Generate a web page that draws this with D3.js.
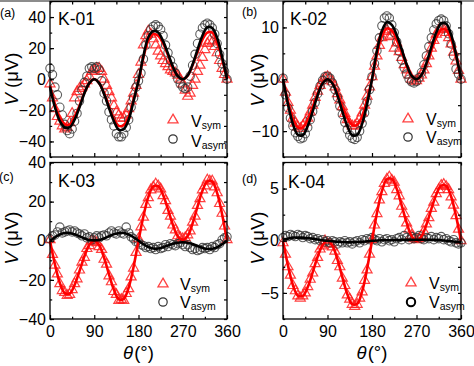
<!DOCTYPE html>
<html>
<head>
<meta charset="utf-8">
<script src="https://cdn.jsdelivr.net/npm/d3@7"></script>
<style>
body{margin:0;background:#fff;}
svg{display:block;font-family:"Liberation Sans",Arial,sans-serif;}
</style>
</head>
<body>
<svg id="fig" width="474" height="366"></svg>
<script>
// measured angles (deg) and fit sampling
var thetaData = [0,5,10,15,20,25,30,35,40,45,50,55,60,65,70,75,80,85,90,95,100,105,110,115,120,125,130,135,140,145,
	150,155,160,165,170,175,180,185,190,195,200,205,210,215,220,225,230,235,240,245,250,255,260,265,270,275,280,285,290,295,
	300,305,310,315,320,325,330,335,340,345,350,355,360];
var thetaFit = [0,10,20,30,40,50,60,70,80,90,100,110,120,130,140,150,160,170,180,190,200,210,220,230,240,250,260,270,
	280,290,300,310,320,330,340,350,360];
var xTicks = [0,90,180,270,360];

// K-01
var k01Sym = [-3,-12,-19,-24,-27,-30,-32,-31,-28,-22,
	-12,-8,-6,-5,-3,-1,2,5,6,7,
	7,5,0,-4,-8,-12,-17,-21,-23,-25,
	-25,-23,-19,-14,-9,-4,3,11,22,28,
	31,29,26,22,18,15,12,10,8,6,
	5,4,2.5,0,-3,-7,-11,-9,-4,0,
	5,9,14,19,23,25,24,21,17,12,
	7,3,0];
var k01Asym = [7,3,-5,-10,-18,-23,-29,-33,-35,-32,
	-27,-22,-14,-7,-2,2,7,8,7,8,
	6,-1,-9,-14,-21,-26,-30,-35,-37,-37,
	-35,-31,-26,-18,-12,-5,-1,4,13,22,
	28,32,34,35,34,32,28,22,17,12,
	8,4,0,-3,-5,-6,-5,2,9,16,
	23,29,33,35,36,35,33,29,23,16,
	10,5,0];
var k01SymFit = [-4,-16,-25,-29,-29,-24,-17,-8.5,-2.5,0,
	-2.5,-9,-17.5,-25.5,-30,-29.5,-24,-13,-1,
	14,25,29,28,23,15.5,7.5,2,0,
	2.3,9,17.5,25.5,30,30,24,13,0];
var k01AsymFit = [-5,-18,-27,-31,-31,-26,-18,-9,-2.5,0,
	-2.5,-9.5,-18.5,-27,-32.5,-32,-26,-14,-1,
	15,27,31,30,24.5,16.5,8,2,0,
	2.5,9.5,19,28,33.5,33,26.5,14.5,0];

// K-02
var k02Sym = [0,-2.5,-4.5,-6,-7.5,-8.5,-9.2,-9.5,-9,-8.3,
	-7.5,-6.3,-5,-3.5,-2.3,-1.2,-0.3,0.3,0.5,0.2,
	-0.5,-1.5,-2.8,-4,-5.3,-6.6,-7.8,-8.6,-9,-9,
	-8.6,-7.6,-6.5,-5,-3.3,-1.5,0.5,2.5,4.5,6.5,
	8,9.2,9.5,8.2,8.5,6,7,5.3,4.2,2.8,
	1.8,0.8,0,-0.4,-0.3,0.2,0.8,1.8,3,4.5,
	6,7.5,8.7,9.5,9.8,9.6,9,8,6.8,5.2,
	3.5,1.7,0];
var k02Asym = [0.2,-3,-5.5,-7.5,-9,-10.3,-11,-11.5,-11.3,-10.5,
	-9.3,-7.8,-6.2,-4.5,-2.8,-1.3,-0.2,0.5,0.6,0.2,
	-0.7,-2,-3.5,-5.2,-6.8,-8.3,-9.7,-10.8,-11.4,-11.6,
	-11.2,-10,-8.5,-6.5,-4.3,-2,0.5,3,5.5,8,
	10.3,11.8,12.2,11.8,10.5,9,7.2,5.4,3.7,2.2,
	1,0,-0.5,-0.7,-0.4,0.3,1.3,2.8,4.5,6.3,
	8,9.5,10.7,11.3,11.6,11.3,10.3,8.8,6.8,4.5,
	2,1,0];
var k02SymFit = [0,-4.2,-7.5,-9.3,-9.3,-7.8,-5.3,-2.7,-0.7,0,
	-0.7,-2.6,-5.1,-7.4,-8.8,-8.8,-7.1,-3.9,0,
	4.8,8.3,9.8,9.4,7.6,5.2,2.6,0.6,0,
	0.8,2.8,5.5,8,9.6,9.5,7.7,4.3,0];
var k02AsymFit = [0,-4.8,-8.6,-10.7,-10.8,-9,-6.2,-3.1,-0.8,0,
	-0.8,-3.1,-6.2,-9,-10.8,-10.7,-8.6,-4.8,0,
	5.5,9.3,11,10.5,8.5,5.8,2.9,0.7,0,
	0.8,3.1,6.2,9,10.8,10.7,8.6,4.8,0];

// K-03
var k03Sym = [0.5,-7,-12.5,-17,-22,-25.5,-26.5,-28,-27.5,-25,
	-22,-19.5,-15,-11,-8.5,-4,-2.5,0,-0.5,-1,
	-3,-4.5,-9.5,-12,-18,-21,-26,-27.5,-30.5,-30,
	-30.5,-27,-24.5,-18.5,-14,-6,1,7,12,18.5,
	22,26,27.5,29,28,26.5,23,20.5,15.5,12.5,
	8,5.5,2.5,1.5,1,1.5,3,5,9.5,12.5,
	18,21.5,26,28,31,30.5,30.5,27.5,24.5,19,
	14,7.5,0.5];
var k03Asym = [1,2.5,3,4.5,7,4,4.5,5,5.5,4.5,
	5,4,3.5,2.5,3.5,1.5,2,0.5,1.5,2.5,
	1.5,2.5,3,2.5,4,5,4,3.5,5,4,
	3.5,7,4,2,1,-0.5,-1,-2,-2.5,-3.5,
	-3,-4,-3.5,-4.5,-3,-4,-3.5,-2,-3,-1.5,
	-2,-2.5,-1.5,-1,-2,-3,-2,-3.5,-4.5,-4,
	-5,-4.5,-3.5,-4,-3.5,-4.5,-3,-3.5,-2,-1.5,
	0.5,1.5,2];
var k03SymFit = [0,-12,-21.6,-26.8,-27,-22.6,-15.5,-7.9,-2.1,0,
	-2.3,-8.7,-17.2,-25.1,-29.9,-29.7,-23.9,-13.3,0,
	12.5,22.4,27.8,27.9,23.4,16,8.1,2.2,0.5,
	2.4,8.9,17.4,25.5,30.4,30.2,24.3,13.6,0];
var k03AsymFit = [0,1.8,3.2,4,4,3.3,2.3,1.2,0.4,0.2,
	0.4,1.2,2.3,3.3,4,4,3.2,1.8,0,
	-1.8,-3.2,-4,-4,-3.3,-2.4,-1.5,-1,-0.8,
	-1,-1.7,-2.7,-3.6,-4.2,-4.1,-3.3,-1.8,0];

// K-04
var k04Sym = [-0.2,-1.3,-2.5,-3.3,-4.3,-4.8,-5.3,-5.5,-5.3,-5,
	-4.4,-3.7,-3.1,-2.2,-1.6,-0.8,-0.5,0,-0.3,-0.3,
	-0.6,-1,-1.9,-2.5,-3.6,-4.3,-5.2,-5.6,-6.1,-6.3,
	-6.1,-5.5,-4.9,-3.8,-2.8,-1.3,0.1,1.5,2.6,3.9,
	4.7,5.5,5.9,6.1,5.8,5.6,4.9,4.3,3.3,2.6,
	1.7,1.1,0.5,0.2,0.1,0.2,0.5,0.9,1.6,2.2,
	3.1,3.7,4.5,4.9,5.3,5.4,5.2,4.9,4.2,3.4,
	2.4,1.1,0];
var k04Asym = [0.3,0.5,0.4,0.6,0.5,0.4,0.6,0.5,0.3,0.5,
	0.4,0.2,0.3,0.1,0.2,0,0.1,-0.1,0,-0.2,
	0,-0.1,-0.3,-0.1,-0.2,0,-0.2,-0.1,-0.3,-0.1,
	0,-0.2,0.1,0,0.2,0.1,0.3,0.1,0,0.2,
	-0.1,0.1,0.2,0,0.1,-0.1,0.2,0.3,0.1,0.5,
	0.3,0.1,0.4,0.2,0.3,0.5,0.2,0.1,0.3,0.2,
	0.4,0.1,0.3,0.2,0.4,0.1,0.2,0,-0.1,0.1,
	-0.2,-0.3,-0.2];
var k04SymFit = [0,-2.36,-4.24,-5.26,-5.29,-4.44,-3.04,-1.54,-0.42,0,
	-0.48,-1.77,-3.49,-5.1,-6.08,-6.04,-4.86,-2.71,0,
	2.65,4.75,5.89,5.93,4.97,3.4,1.73,0.47,0,
	0.42,1.54,3.04,4.44,5.29,5.26,4.24,2.36,0];
var k04AsymFit = [0.1,0.2,0.3,0.3,0.3,0.25,0.2,0.12,0.05,0,
	-0.05,-0.1,-0.12,-0.15,-0.15,-0.12,-0.1,-0.05,0,
	0.03,0.05,0.05,0.05,0.07,0.08,0.1,0.1,0.1,
	0.1,0.1,0.1,0.08,0.05,0,-0.05,-0.12,-0.2];

var RED = "#ff2020", GREY = "#333";

var panels = [
	{tag:"(a)", name:"K-01", left:50, top:1.5, w:177, h:155.5, sym:k01Sym, asym:k01Asym, symFit:k01SymFit, asymFit:k01AsymFit,
	 yDomain:[-50,50], yMajor:[-40,-20,0,20,40], yStep:10, xLabels:false,
	 tagPos:[0,17], namePos:[58,25], yTitle:[18,79], leg:{x:173,y1:120,y2:139,tx:191,b1:126.5,b2:146.5}, darkLeg:false},
	{tag:"(b)", name:"K-02", left:283, top:1.5, w:178, h:155.5, sym:k02Sym, asym:k02Asym, symFit:k02SymFit, asymFit:k02AsymFit,
	 yDomain:[-15,15], yMajor:[-10,0,10], yStep:5, xLabels:false,
	 tagPos:[242,16], namePos:[290,25], yTitle:[264,80], leg:{x:408,y1:119,y2:137,tx:426,b1:125,b2:143}, darkLeg:false},
	{tag:"(c)", name:"K-03", left:50, top:162.5, w:177, h:156.5, sym:k03Sym, asym:k03Asym, symFit:k03SymFit, asymFit:k03AsymFit,
	 yDomain:[-40,40], yMajor:[-40,-20,0,20,40], yStep:10, xLabels:true,
	 tagPos:[-1,181], namePos:[58,187], yTitle:[18,238], leg:{x:163,y1:284,y2:302,tx:180,b1:290,b2:308}, darkLeg:false},
	{tag:"(d)", name:"K-04", left:283, top:162.5, w:178, h:156.5, sym:k04Sym, asym:k04Asym, symFit:k04SymFit, asymFit:k04AsymFit,
	 yDomain:[-7.5,7.5], yMajor:[-5,0,5], yStep:2.5, xLabels:true,
	 tagPos:[242,183], namePos:[288,188], yTitle:[264,238], leg:{x:411,y1:283,y2:302,tx:429,b1:289,b2:308}, darkLeg:true}
];

var svg = d3.select("#fig");
// grey strip along the top edge of the figure
svg.append("rect").attr("x",0).attr("y",0).attr("width",474).attr("height",2).attr("fill","#8c8c8c");

var tri = d3.symbol(d3.symbolTriangle, 44);

function tidy(sel){
	sel.select(".domain").remove();
	sel.attr("font-family",null).attr("font-size",null);
	sel.selectAll("line").attr("stroke","#000").attr("stroke-width",1.2);
	sel.selectAll("text").attr("fill","#000").style("font-size","16px");
}

panels.forEach(function(p){
	var x = d3.scaleLinear().domain([0,360]).range([p.left, p.left+p.w]);
	var y = d3.scaleLinear().domain(p.yDomain).range([p.top+p.h, p.top]);
	var g = svg.append("g");
	var minorY = d3.range(p.yDomain[0], p.yDomain[1]+1e-9, p.yStep);
	var minorX = [45,135,225,315];

	// data points
	var symPts = thetaData.map(function(t,i){return [t,p.sym[i]];});
	var asymPts = thetaData.map(function(t,i){return [t,p.asym[i]];});
	g.append("g").selectAll("path").data(symPts).enter().append("path")
		.attr("d",tri).attr("transform",function(d){return "translate("+x(d[0])+","+y(d[1])+")";})
		.attr("fill","none").attr("stroke",RED).attr("stroke-opacity",0.85).attr("stroke-width",1.2);
	g.append("g").selectAll("circle").data(asymPts).enter().append("circle")
		.attr("cx",function(d){return x(d[0]);}).attr("cy",function(d){return y(d[1]);}).attr("r",4.2)
		.attr("fill","none").attr("stroke",GREY).attr("stroke-opacity",0.8).attr("stroke-width",1.1);

	// fit curves
	var line = d3.line().x(function(d){return x(d[0]);}).y(function(d){return y(d[1]);}).curve(d3.curveCatmullRom);
	g.append("path").datum(thetaFit.map(function(t,i){return [t,p.symFit[i]];}))
		.attr("d",line).attr("fill","none").attr("stroke","#ff0000").attr("stroke-width",2.6);
	g.append("path").datum(thetaFit.map(function(t,i){return [t,p.asymFit[i]];}))
		.attr("d",line).attr("fill","none").attr("stroke","#000").attr("stroke-width",2.6);

	// axes, ticks pointing inward
	g.append("g").attr("transform","translate("+p.left+",0)")
		.call(d3.axisLeft(y).tickValues(p.yMajor).tickSize(-4).tickPadding(4).tickSizeOuter(0)).call(tidy);
	g.append("g").attr("transform","translate("+p.left+",0)")
		.call(d3.axisLeft(y).tickValues(minorY).tickSize(-2.2).tickFormat("").tickSizeOuter(0)).call(tidy);
	g.append("g").attr("transform","translate("+(p.left+p.w)+",0)")
		.call(d3.axisRight(y).tickValues(minorY).tickSize(-3).tickFormat("").tickSizeOuter(0)).call(tidy);
	var bottom = d3.axisBottom(x).tickValues(xTicks).tickSize(-4).tickPadding(7).tickSizeOuter(0);
	if(!p.xLabels) bottom.tickFormat("");
	g.append("g").attr("transform","translate(0,"+(p.top+p.h)+")").call(bottom).call(tidy);
	g.append("g").attr("transform","translate(0,"+(p.top+p.h)+")")
		.call(d3.axisBottom(x).tickValues(minorX).tickSize(-2.2).tickFormat("").tickSizeOuter(0)).call(tidy);
	g.append("g").attr("transform","translate(0,"+p.top+")")
		.call(d3.axisTop(x).tickValues(xTicks.concat(minorX)).tickSize(-3).tickFormat("").tickSizeOuter(0)).call(tidy);

	g.append("rect").attr("x",p.left).attr("y",p.top).attr("width",p.w).attr("height",p.h)
		.attr("fill","none").attr("stroke","#000").attr("stroke-width",1.3);

	// labels
	g.append("text").attr("x",p.tagPos[0]).attr("y",p.tagPos[1]).style("font-size","12.5px").text(p.tag);
	g.append("text").attr("x",p.namePos[0]).attr("y",p.namePos[1]).style("font-size","17.5px").text(p.name);

	var yt = g.append("text").attr("transform","translate("+p.yTitle[0]+","+p.yTitle[1]+") rotate(-90)")
		.attr("text-anchor","middle").style("font-size","18.5px");
	yt.append("tspan").style("font-style","italic").text("V");
	yt.append("tspan").text(" (\u03bcV)");

	if(p.xLabels){
		var xt = g.append("text").attr("x",x(180)).attr("y",359).attr("text-anchor","middle").style("font-size","18.5px");
		xt.append("tspan").style("font-style","italic").text("\u03b8");
		xt.append("tspan").attr("dx",1).text("(\u00b0)");
	}

	// legend
	var L = p.leg;
	g.append("path").attr("d",tri).attr("transform","translate("+L.x+","+L.y1+")")
		.attr("fill","none").attr("stroke",RED).attr("stroke-opacity",0.85).attr("stroke-width",1.3);
	g.append("circle").attr("cx",L.x).attr("cy",L.y2).attr("r",4.2)
		.attr("fill","none").attr("stroke",p.darkLeg ? "#000" : GREY).attr("stroke-width",p.darkLeg ? 2 : 1.2);
	[["sym",L.b1],["asym",L.b2]].forEach(function(e){
		var t = g.append("text").attr("x",L.tx).attr("y",e[1]).style("font-size","16px");
		t.append("tspan").text("V");
		t.append("tspan").attr("dy",2).style("font-size","10.5px").text(e[0]);
	});
});
</script>
</body>
</html>
